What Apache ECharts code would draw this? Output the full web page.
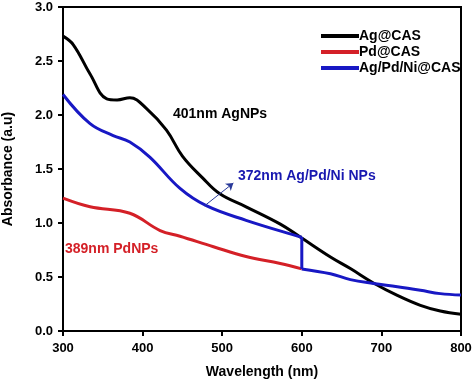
<!DOCTYPE html>
<html><head><meta charset="utf-8">
<script src="https://cdn.jsdelivr.net/npm/echarts@6/dist/echarts.min.js"></script>
<style>html,body{margin:0;padding:0;background:#fff}#c{width:474px;height:384px}</style>
</head><body><div id="c"></div>
<script>
const xTicks = [300, 400, 500, 600, 700, 800];
const yTicks = [0.0, 0.5, 1.0, 1.5, 2.0, 2.5, 3.0];
const agCAS = [[300,2.73],[313,2.65],[334,2.38],[355,2.15],[368,2.14],[384,2.16],[405,2.06],[430,1.86],[450,1.62],[475,1.42],[497,1.27],[530,1.15],[573,0.99],[598,0.87],[636,0.685],[661,0.578],[690,0.445],[720,0.33],[749,0.238],[774,0.185],[800,0.155]];
const pdCAS = [[300,1.23],[334,1.15],[384,1.09],[422,0.93],[447,0.877],[489,0.78],[530,0.69],[573,0.625],[600,0.575]];
const agpdniA = [[300,2.19],[334,1.92],[363,1.81],[384,1.75],[409,1.61],[447,1.32],[480,1.16],[530,1.025],[598,0.872],[600,0.87]];
const agpdniJump = [[600,0.87],[600,0.575]];
const agpdniB = [[600,0.575],[636,0.53],[661,0.476],[690,0.44],[720,0.41],[749,0.377],[774,0.346],[800,0.333]];
const arrowFrom = [478, 1.16];
const arrowTo = [514, 1.37];

const BLACK = '#000', RED = '#d42027', BLUE = '#1818c4';
const FONT = 'Liberation Sans';
const chart = echarts.init(document.getElementById('c'), null, {renderer:'canvas'});
const lineSeries = (name, data, color, smooth) => ({
  name, type:'line', data, smooth, showSymbol:false, symbol:'none',
  lineStyle:{color, width:3}, itemStyle:{color}, animation:false, z:3
});
chart.setOption({
  animation:false,
  grid:{left:63, right:13, top:7, bottom:53, containLabel:false, outerBoundsMode:'none',
    show:true, borderColor:'#000', borderWidth:2},
  legend:{
    orient:'vertical', left:316, top:24, itemWidth:38, itemHeight:4, itemGap:2, icon:'rect',
    textStyle:{fontFamily:FONT, fontWeight:'bold', fontSize:14, color:'#000', padding:[0,0,0,-5]},
    data:['Ag@CAS','Pd@CAS','Ag/Pd/Ni@CAS']
  },
  xAxis:{
    type:'value', min:300, max:800, interval:100,
    name:'Wavelength (nm)', nameLocation:'middle', nameGap:34,
    nameTextStyle:{fontFamily:FONT, fontWeight:'bold', fontSize:14, color:'#000'},
    axisLine:{lineStyle:{color:'#000', width:2}},
    axisTick:{inside:false, length:5, lineStyle:{color:'#000', width:2}},
    axisLabel:{fontFamily:FONT, fontWeight:'bold', fontSize:13, color:'#000', margin:11},
    splitLine:{show:false}
  },
  yAxis:{
    type:'value', min:0, max:3, interval:0.5,
    name:'Absorbance (a.u)', nameLocation:'middle', nameGap:48,
    nameTextStyle:{fontFamily:FONT, fontWeight:'bold', fontSize:14, color:'#000'},
    axisLine:{show:true, lineStyle:{color:'#000', width:2}},
    axisTick:{show:true, inside:false, length:5, lineStyle:{color:'#000', width:2}},
    axisLabel:{fontFamily:FONT, fontWeight:'bold', fontSize:13, color:'#000', margin:10,
      formatter:v=>v.toFixed(1)},
    splitLine:{show:false}
  },
  series:[
    lineSeries('Ag@CAS', agCAS, BLACK, 0.4),
    lineSeries('Pd@CAS', pdCAS, RED, 0.4),
    Object.assign(lineSeries('Ag/Pd/Ni@CAS', agpdniA, BLUE, 0.4), {
      markLine:{silent:true, animation:false, symbol:['none','arrow'], symbolSize:7,
        lineStyle:{color:'#2a3a9a', width:1, type:'solid'}, label:{show:false},
        data:[[{coord:arrowFrom},{coord:arrowTo}]]}
    }),
    lineSeries('Ag/Pd/Ni@CAS', agpdniJump, BLUE, false),
    lineSeries('Ag/Pd/Ni@CAS', agpdniB, BLUE, 0.4)
  ],
  graphic:[
    {type:'text', left:173, top:107, style:{text:'401nm AgNPs', fill:'#000', font:'bold 14px "Liberation Sans"'}},
    {type:'text', left:238, top:169, style:{text:'372nm Ag/Pd/Ni NPs', fill:'#1818b0', font:'bold 14px "Liberation Sans"'}},
    {type:'text', left:65, top:242, style:{text:'389nm PdNPs', fill:RED, font:'bold 14px "Liberation Sans"'}}
  ]
});
</script></body></html>
